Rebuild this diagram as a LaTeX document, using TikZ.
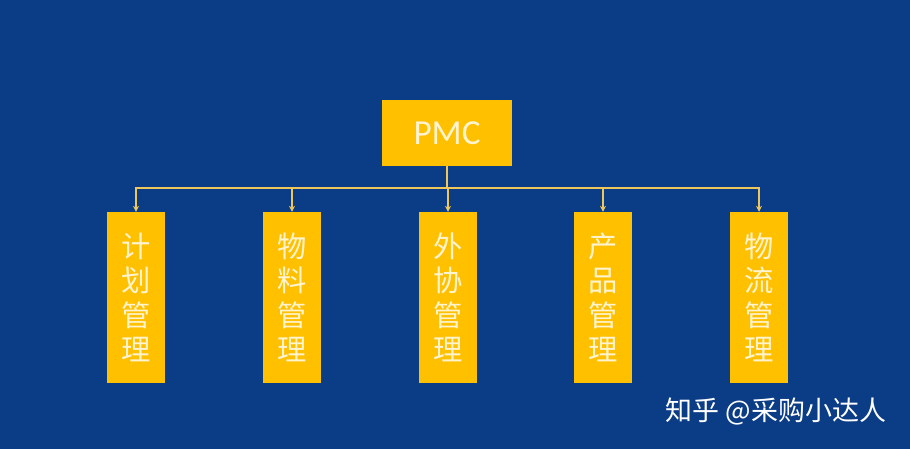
\documentclass[tikz,border=0pt]{standalone}
\usepackage{fontspec}
\setmainfont{Carlito}
\newfontfamily\cjk{Noto Sans CJK SC}
\usetikzlibrary{arrows.meta}
\definecolor{bgblue}{HTML}{0B3C86}
\definecolor{boxyellow}{HTML}{FFC000}
\definecolor{boxtext}{HTML}{FFF4D0}
\definecolor{linkyellow}{HTML}{EFC65A}
\tikzset{
	topbox/.style={fill=boxyellow, text=boxtext, minimum width=3.9cm, minimum height=1.98cm,
			font=\fontsize{30}{30}\selectfont},
	subbox/.style={fill=boxyellow, text=boxtext, minimum width=1.74cm, minimum height=5.13cm,
			align=center, inner sep=0pt, font=\cjk\fontsize{25}{29.5}\selectfont},
	link/.style={draw=linkyellow, line width=1.3pt, -{Stealth[length=5pt,width=5pt]}}
}

\begin{document}
\begin{tikzpicture}[x=0.03cm, y=-0.03cm]
	\fill[bgblue] (0,0) rectangle (910,449);
	\useasboundingbox (0,0) rectangle (910,449);

	\node[topbox] (pmc) at (447,133) {PMC};

	\node[subbox] (plan) at (136,297.5) {计\\划\\管\\理};
	\node[subbox] (material) at (292,297.5) {物\\料\\管\\理};
	\node[subbox] (outsource) at (448,297.5) {外\\协\\管\\理};
	\node[subbox] (product) at (603,297.5) {产\\品\\管\\理};
	\node[subbox] (logistics) at (759,297.5) {物\\流\\管\\理};

	\coordinate (bus) at (447,188);
	\foreach \c in {plan,material,outsource,product,logistics}
		\draw[link] (pmc.south) -- (pmc.south |- bus) -| (\c.north);

	\node[text=white, font=\cjk\fontsize{23}{23}\selectfont] (mark) at (776,411) {知乎 @采购小达人};
\end{tikzpicture}
\end{document}
